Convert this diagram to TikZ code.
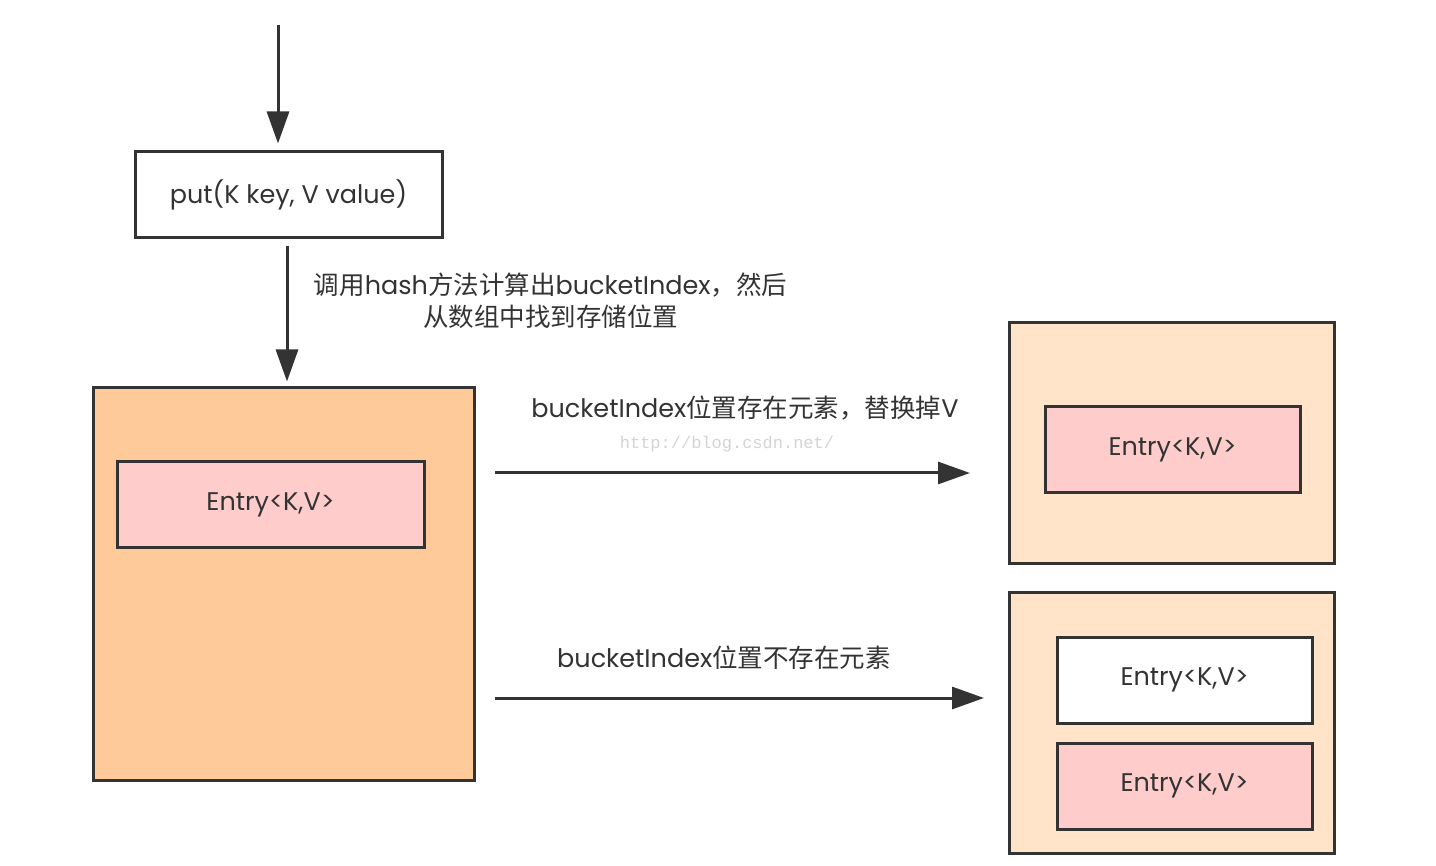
\documentclass[tikz,border=0pt]{standalone}
\usepackage{fontspec}
\setmainfont{Poppins}
\newfontfamily\cjk{Noto Sans CJK SC}
\newfontfamily\wmfont{Liberation Mono}
\usetikzlibrary{arrows.meta}
\definecolor{ink}{HTML}{333333}
\definecolor{bigfill}{HTML}{FFCA99}
\definecolor{lightfill}{HTML}{FFE4CA}
\definecolor{pinkfill}{HTML}{FFCCCC}
\definecolor{wm}{HTML}{D4D4D4}
\tikzset{
  box/.style={draw=ink, line width=3pt, inner sep=0pt, text=ink, font=\fontsize{25.5}{30}\selectfont},
  arr/.style={draw=ink, line width=3pt, -{Triangle[length=32pt,width=22pt]}},
  lbl/.style={text=ink, inner sep=0pt, align=center, font=\fontsize{25.5}{32}\selectfont},
}
\newcommand{\zh}[1]{{\cjk\fontsize{25.5}{32}\selectfont #1}}
\begin{document}
\begin{tikzpicture}[x=1pt,y=-1pt]
\useasboundingbox[fill=white] (0,0) rectangle (1436,866);
% boxes
\node[box, minimum width=307pt, minimum height=86pt] (put) at (288.5,195) {put(K key, V value)};
\node[box, fill=bigfill, minimum width=381pt, minimum height=392pt] (big) at (283.5,584) {};
\node[box, fill=pinkfill, minimum width=307pt, minimum height=85pt] (e1) at (270.5,504.5) {Entry<K,V>};
\node[box, fill=lightfill, minimum width=325pt, minimum height=240pt] (r1) at (1171.5,443) {};
\node[box, fill=pinkfill, minimum width=255pt, minimum height=86pt] (r1e) at (1172.5,450) {Entry<K,V>};
\node[box, fill=lightfill, minimum width=325pt, minimum height=261pt] (r2) at (1171.5,722.5) {};
\node[box, fill=white, minimum width=255pt, minimum height=86pt] (r2a) at (1184.5,680) {Entry<K,V>};
\node[box, fill=pinkfill, minimum width=255pt, minimum height=86pt] (r2b) at (1184.5,786) {Entry<K,V>};
% connectors
\coordinate (top) at (278,25);
\draw[arr, shorten >=7pt] (top) -- (top |- put.north);
\coordinate (a2) at (287,246);
\draw[arr, shorten >=5pt] (a2) -- (a2 |- big.north);
\coordinate (s1) at (495,473);
\coordinate (t1) at (970,473);
\draw[arr] (s1) -- (t1);
\coordinate (s2) at (495,698);
\coordinate (t2) at (984,698);
\draw[arr] (s2) -- (t2);
% labels
\node[lbl] (l0) at (550.5,301) {\zh{调用}hash\zh{方法计算出}bucketIndex\zh{，然后}\\ \zh{从数组中找到存储位置}};
\node[lbl] (l1) at (745,408) {bucketIndex\zh{位置存在元素，替换掉}V};
\node[text=wm, inner sep=0pt, font=\wmfont\fontsize{17}{20}\selectfont] (wm) at (727,444) {http://blog.csdn.net/};
\node[lbl] (l2) at (724,658) {bucketIndex\zh{位置不存在元素}};
\end{tikzpicture}
\end{document}
